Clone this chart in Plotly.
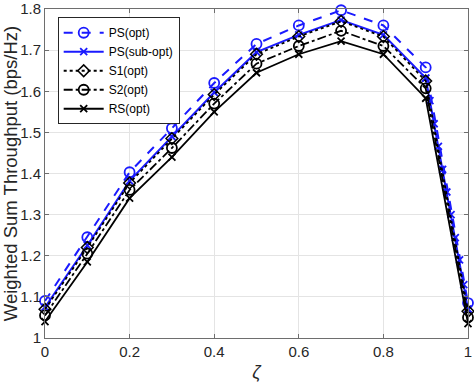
import plotly.graph_objects as go

zeta = [0, 0.1, 0.2, 0.3, 0.4, 0.5, 0.6, 0.7, 0.8, 0.9, 1.0]
ps_opt = [1.09, 1.245, 1.403, 1.51, 1.62, 1.715, 1.76, 1.797, 1.76, 1.658, 1.085]
ps_sub = [1.075, 1.225, 1.382, 1.49, 1.597, 1.695, 1.737, 1.773, 1.737, 1.632, 1.07]
s1_opt = [1.07, 1.22, 1.377, 1.485, 1.592, 1.69, 1.733, 1.77, 1.733, 1.625, 1.065]
s2_opt = [1.055, 1.205, 1.36, 1.462, 1.57, 1.667, 1.71, 1.747, 1.71, 1.607, 1.05]
rs_opt = [1.04, 1.185, 1.34, 1.44, 1.55, 1.645, 1.69, 1.722, 1.69, 1.583, 1.035]

# dense markers visible on the steep final segment of PS(sub-opt)
zeta_tail = [0.9, 0.91, 0.92, 0.93, 0.94, 0.95, 0.96, 0.97, 0.98, 0.99, 1.0]
ps_sub_tail = [1.632, 1.577, 1.521, 1.466, 1.41, 1.355, 1.3, 1.244, 1.19, 1.13, 1.07]

x_ticks = [0, 0.2, 0.4, 0.6, 0.8, 1]
y_ticks = [1, 1.1, 1.2, 1.3, 1.4, 1.5, 1.6, 1.7, 1.8]

BLUE = "#1a1aff"
fig = go.Figure()
fig.add_trace(go.Scatter(x=zeta, y=ps_opt, name="PS(opt)", mode="lines+markers", cliponaxis=False,
                         line=dict(color=BLUE, width=2, dash="dash"),
                         marker=dict(symbol="circle-open", size=10, color=BLUE, line=dict(width=1.8))))
fig.add_trace(go.Scatter(x=zeta, y=ps_sub, name="PS(sub-opt)", mode="lines+markers", cliponaxis=False,
                         line=dict(color=BLUE, width=2),
                         marker=dict(symbol="x-thin-open", size=7, color=BLUE, line=dict(width=1.8, color=BLUE))))
fig.add_trace(go.Scatter(x=zeta_tail, y=ps_sub_tail, showlegend=False, mode="markers", cliponaxis=False,
                         marker=dict(symbol="x-thin-open", size=7, color=BLUE, line=dict(width=1.8, color=BLUE))))
fig.add_trace(go.Scatter(x=zeta, y=s1_opt, name="S1(opt)", mode="lines+markers", cliponaxis=False,
                         line=dict(color="black", width=1.8, dash="dot"),
                         marker=dict(symbol="diamond-open", size=9, color="black", line=dict(width=1.5))))
fig.add_trace(go.Scatter(x=zeta, y=s2_opt, name="S2(opt)", mode="lines+markers", cliponaxis=False,
                         line=dict(color="black", width=1.8, dash="dashdot"),
                         marker=dict(symbol="circle-open", size=10, color="black", line=dict(width=1.8))))
fig.add_trace(go.Scatter(x=zeta, y=rs_opt, name="RS(opt)", mode="lines+markers", cliponaxis=False,
                         line=dict(color="black", width=1.8),
                         marker=dict(symbol="x-thin-open", size=7, color="black", line=dict(width=1.8, color="black"))))

axis_common = dict(showline=True, linecolor="#6e6e6e", linewidth=1, mirror="ticks",
                   ticks="inside", ticklen=4, tickcolor="#6e6e6e", automargin=False,
                   ticklabeloverflow="allow",
                   showgrid=True, gridcolor="#e4e4e4", gridwidth=1, zeroline=False,
                   tickfont=dict(family="Liberation Sans, Arial", size=15, color="#262626"))

fig.update_xaxes(range=[0, 1], tickvals=x_ticks, ticktext=[str(t) for t in x_ticks],
                 title=dict(text="<i>ζ</i>", font=dict(family="Liberation Sans, Arial", size=18, color="#262626"), standoff=9),
                 **axis_common)
fig.update_yaxes(range=[1, 1.8], tickvals=y_ticks, ticktext=[("%g" % t) for t in y_ticks],
                 title=dict(text="Weighted Sum Throughput (bps/Hz)",
                            font=dict(family="Liberation Sans, Arial", size=18.5, color="#262626"), standoff=5),
                 **axis_common)

fig.update_layout(width=474, height=382, margin=dict(l=45, r=6, t=9, b=44, autoexpand=False),
                  paper_bgcolor="white", plot_bgcolor="white",
                  legend=dict(x=0.03, y=0.975, xanchor="left", yanchor="top",
                              bgcolor="white", bordercolor="#262626", borderwidth=1,
                              font=dict(family="Liberation Sans, Arial", size=12, color="black"),
                              tracegroupgap=0, itemwidth=40))
fig.write_html("out.html", config={"displayModeBar": False},
               post_script="document.body.style.margin='0';document.body.style.overflow='hidden';")
